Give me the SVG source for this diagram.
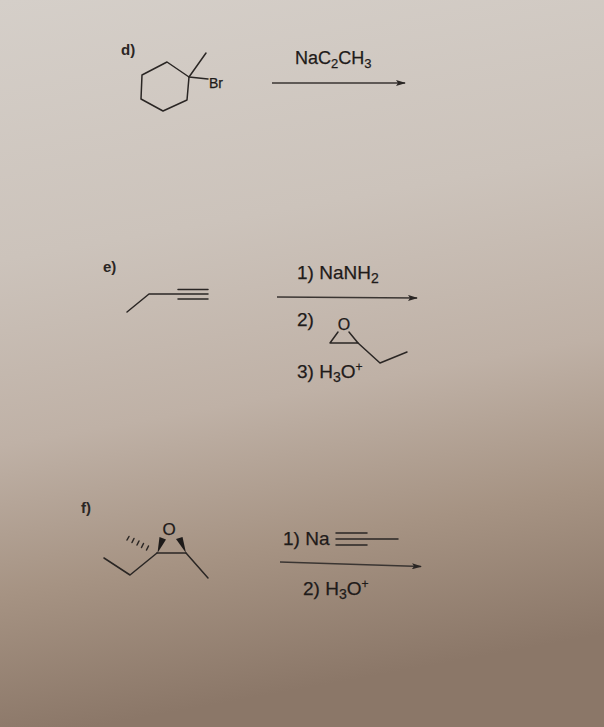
<svg xmlns="http://www.w3.org/2000/svg" width="604" height="727" viewBox="0 0 604 727">
  <defs>
    <linearGradient id="bg" x1="0" y1="0" x2="0.15" y2="1">
      <stop offset="0" stop-color="#d5cfc9"/>
      <stop offset="0.35" stop-color="#ccc3bb"/>
      <stop offset="0.6" stop-color="#bfb1a6"/>
      <stop offset="0.8" stop-color="#a69383"/>
      <stop offset="1" stop-color="#8b7768"/>
    </linearGradient>
    <marker id="ah" viewBox="0 0 10 6" refX="9" refY="3" markerWidth="10" markerHeight="6" markerUnits="userSpaceOnUse" orient="auto">
      <path d="M0,0 L10,3 L0,6 L2,3 Z" fill="#2a2624"/>
    </marker>
    <style>
      .b { stroke: #2a2624; stroke-width: 1.5; fill: none; stroke-linecap: round; stroke-linejoin: round; }
      .arr { stroke: #3a3532; stroke-width: 1.4; fill: none; }
      .t { font-family: "Liberation Sans", Arial, sans-serif; fill: #1e1b1a; stroke: #1e1b1a; stroke-width: 0.25; }
      .r { font-size: 19px; }
      .lab { font-family: "Liberation Sans", Arial, sans-serif; font-weight: bold; fill: #2a2624; font-size: 15px; }
      .w { fill: #1e1b1a; stroke: none; }
    </style>
  </defs>
  <rect width="604" height="727" fill="url(#bg)"/>

  <!-- d -->
  <g id="label-d"><text class="lab" x="121" y="55">d)</text></g>
  <g id="reactant-d">
    <polygon class="b" points="167,62 189,77 187,100 163,111 141,99 142,75"/>
    <line class="b" x1="189" y1="77" x2="206" y2="53"/>
    <line class="b" x1="189" y1="77" x2="208" y2="79"/>
    <text class="t" x="209" y="88" font-size="14">Br</text>
  </g>
  <g id="reagent-d">
    <text class="t" x="295" y="64" font-size="18">NaC<tspan font-size="13" dy="3.5">2</tspan><tspan dy="-3.5">CH</tspan><tspan font-size="13" dy="3.5">3</tspan></text>
  </g>

  <!-- e -->
  <g id="label-e"><text class="lab" x="103" y="272">e)</text></g>
  <g id="reactant-e">
    <polyline class="b" points="127,312 149,294 208,294"/>
    <line class="b" x1="178" y1="289.5" x2="208" y2="289.5"/>
    <line class="b" x1="178" y1="299" x2="208" y2="299"/>
  </g>
  <g id="reagent-e">
    <text class="t r" x="297" y="279">1) NaNH<tspan font-size="14" dy="4">2</tspan></text>
    <text class="t r" x="297" y="326">2)</text>
    <text class="t" x="344" y="330" font-size="16" text-anchor="middle">O</text>
    <polyline class="b" points="338,332 330,343 358,343 349,332"/>
    <polyline class="b" points="358,343 380,363 407,352"/>
    <text class="t r" x="297" y="378">3) H<tspan font-size="14" dy="4">3</tspan><tspan dy="-4">O</tspan><tspan font-size="12" dy="-7">+</tspan></text>
  </g>

  <!-- f -->
  <g id="label-f"><text class="lab" x="81" y="513">f)</text></g>
  <g id="reactant-f">
    <text class="t" x="169" y="535" font-size="17" text-anchor="middle">O</text>
    <polygon class="w" points="159.5,537 166,539.5 157.5,553"/>
    <polygon class="w" points="176,539 182.5,537 186,553"/>
    <line class="b" x1="157" y1="553" x2="186" y2="553"/>
    <line class="b" x1="186" y1="553" x2="208" y2="578"/>
    <polyline class="b" points="157,553 130,575 104,558"/>
    <g class="b" stroke-width="1.6">
      <line x1="127" y1="540" x2="129" y2="536.5"/>
      <line x1="132" y1="542.5" x2="134" y2="538.5"/>
      <line x1="137" y1="545" x2="139" y2="541"/>
      <line x1="141.5" y1="547.5" x2="143.5" y2="543.5"/>
      <line x1="146.5" y1="550" x2="148.5" y2="546"/>
    </g>
  </g>
  <g id="reagent-f">
    <text class="t r" x="283" y="545">1) Na</text>
    <line class="b" x1="336" y1="533" x2="367" y2="533"/>
    <line class="b" x1="336" y1="539" x2="398" y2="539"/>
    <line class="b" x1="336" y1="545" x2="367" y2="545"/>
    <text class="t r" x="303" y="595">2) H<tspan font-size="14" dy="4">3</tspan><tspan dy="-4">O</tspan><tspan font-size="12" dy="-7">+</tspan></text>
  </g>

  <!-- connectors -->
  <g id="connectors">
    <line class="arr" x1="272" y1="83" x2="405" y2="83" marker-end="url(#ah)"/>
    <line class="arr" x1="277" y1="297" x2="417" y2="298" marker-end="url(#ah)"/>
    <line class="arr" x1="280" y1="562" x2="421" y2="566.5" marker-end="url(#ah)"/>
  </g>
</svg>
